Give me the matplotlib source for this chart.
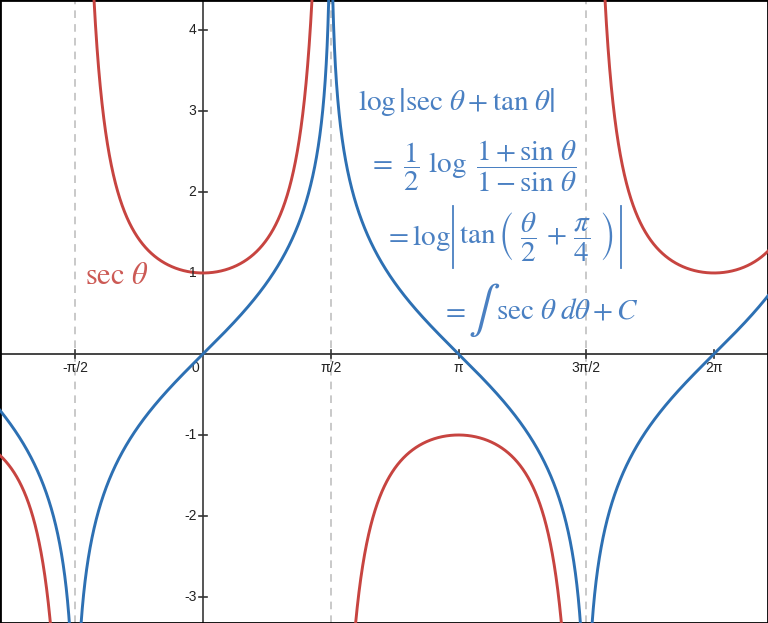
import numpy as np
import matplotlib.pyplot as plt
from matplotlib.lines import Line2D

plt.rcParams["mathtext.fontset"] = "stix"
plt.rcParams["font.family"] = ["Liberation Sans", "DejaVu Sans"]

RED = "#c74440"
BLUE = "#2d70b3"
TEXT_RED = "#cc5a55"
TEXT_BLUE = "#4a80c2"

x_ticks = [-np.pi / 2, 0, np.pi / 2, np.pi, 3 * np.pi / 2, 2 * np.pi]
x_labels = ["-π/2", "0", "π/2", "π", "3π/2", "2π"]
y_ticks = [-3, -2, -1, 1, 2, 3, 4]
asymptotes = [-np.pi / 2, np.pi / 2, 3 * np.pi / 2]

x_min, x_max = -2.496, 6.947
y_min, y_max = -3.321, 4.370

formula_lines = [
    r"$\log\left|\sec\,\theta+\tan\,\theta\right|$",
    r"$=\ \dfrac{1}{2}\ \log\ \dfrac{1+\sin\,\theta}{1-\sin\,\theta}$",
    r"$=\log$",
    r"$\tan\left(\ \dfrac{\theta}{2}\,+\,\dfrac{\pi}{4}\ \right)$",
    r"$=$",
    r"$\int$",
    r"$\sec\,\theta\;d\theta+C$",
]
# left edge / vertical centre of each piece, in figure pixels
formula_pos = [(358, 102), (368, 166), (384, 238), (459, 238),
               (441, 310), (468, 310), (496, 310)]
formula_size = [21, 21, 21, 21, 21, 34, 21]
# thin absolute-value bars of line 3: x, y_top, y_bottom (pixels)
abs_bars = [(453, 206, 268), (621, 206, 268)]


def split_at_poles(x, y):
    y = y.copy()
    for a in asymptotes:
        y[np.argmin(np.abs(x - a))] = np.nan
    y[np.abs(y) > 50] = np.nan
    return y


theta = np.linspace(x_min, x_max, 20001)
for a in asymptotes:
    theta = np.sort(np.append(theta, a))
sec_vals = split_at_poles(theta, 1 / np.cos(theta))
with np.errstate(divide="ignore", invalid="ignore"):
    logsec_vals = split_at_poles(theta, np.log(np.abs(1 / np.cos(theta) + np.tan(theta))))

fig = plt.figure(figsize=(7.68, 6.23), dpi=100)
ax = fig.add_axes([0, 0, 1, 1])
ax.set_xlim(x_min, x_max)
ax.set_ylim(y_min, y_max)
ax.set_xticks([])
ax.set_yticks([])
for s in ax.spines.values():
    s.set_color("black")
    s.set_linewidth(2)

for a in asymptotes:
    ax.axvline(a, color="#bbbbbb", lw=1.1, ls=(0, (5, 4)), zorder=1)
ax.axhline(0, color="#444444", lw=1.4, zorder=2)
ax.axvline(0, color="#555555", lw=1.4, zorder=2)

ax.plot(theta, sec_vals, color=RED, lw=2.1, zorder=3)
ax.plot(theta, logsec_vals, color=BLUE, lw=2.1, zorder=4)

for xt, lab in zip(x_ticks, x_labels):
    if xt != 0:
        ax.plot([xt, xt], [-0.05, 0.05], color="#333333", lw=1.2, zorder=2)
        ax.text(xt, -0.17, lab, ha="center", va="center", fontsize=10, color="#222222")
ax.text(-0.04, -0.17, "0", ha="right", va="center", fontsize=10, color="#222222")
for yt in y_ticks:
    ax.plot([-0.05, 0.05], [yt, yt], color="#333333", lw=1.2, zorder=2)
    ax.text(-0.08, yt, str(yt), ha="right", va="center", fontsize=10, color="#222222")

ax.text(-1.06, 0.96, r"$\sec\,\theta$", color=TEXT_RED, fontsize=22,
        ha="center", va="center")

for line, (px, py), fs in zip(formula_lines, formula_pos, formula_size):
    fig.text(px / 768, 1 - py / 623, line, color=TEXT_BLUE, fontsize=fs,
             ha="left", va="center")
for bx, top, bot in abs_bars:
    fig.add_artist(Line2D([bx / 768, bx / 768], [1 - top / 623, 1 - bot / 623],
                          transform=fig.transFigure, color=TEXT_BLUE, lw=1.3))

fig.savefig("out.png", dpi=100)
